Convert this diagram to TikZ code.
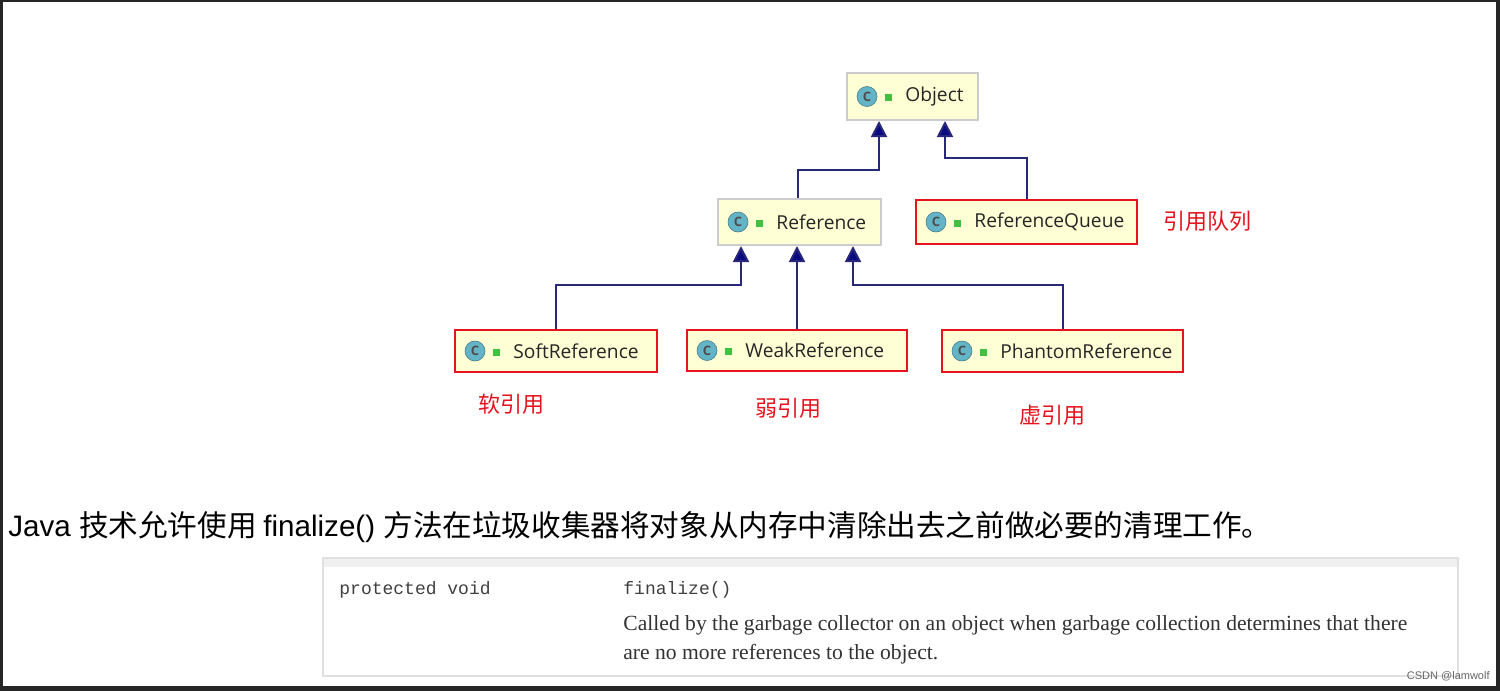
\documentclass[tikz,border=0pt]{standalone}
\usepackage{fontspec}
\setmainfont{Liberation Serif}
\setsansfont{Open Sans}
\setmonofont{Liberation Mono}
\newfontfamily\cjk{Noto Sans CJK SC}
\newfontfamily\arialf{Liberation Sans}
\usetikzlibrary{arrows.meta}
\definecolor{boxfill}{RGB}{255,255,214}
\definecolor{edgeblue}{RGB}{40,40,120}
\definecolor{tipblue}{RGB}{10,10,130}
\definecolor{redbox}{RGB}{230,20,30}
\definecolor{iconc}{RGB}{100,180,200}
\tikzset{
  cls/.style={draw=gray!40, fill=boxfill, line width=1pt, inner sep=0pt},
  redcls/.style={cls, draw=redbox, line width=1.3pt},
  inh/.style={draw=edgeblue, line width=1pt, -{Triangle[width=8pt,length=8pt,fill=tipblue]}},
  cnlabel/.style={text=redbox, font=\cjk\fontsize{11}{13}\selectfont},
  icon/.style={circle, fill=iconc, draw=iconc!70!black, line width=0.3pt, minimum size=10pt, inner sep=0pt, font=\sffamily\bfseries\fontsize{6.5}{6.5}\selectfont, text=black!70},
  lock/.style={fill=green!50!gray, minimum width=3.5pt, minimum height=3.5pt, inner sep=0pt},
  clstext/.style={anchor=west, font=\sffamily\fontsize{9.6}{12}\selectfont, text=black!85, inner sep=0pt}
}
\newcommand{\clsbox}[7]{%
  \node[#6, minimum width={(#4-#2)*0.5pt}, minimum height={(#5-#3)*0.5pt}] (#1) at ({(#2+#4)/2},{(#3+#5)/2}) {};
  \node[icon] (#1i) at ({#2+20},{(#3+#5)/2}) {C};
  \node[lock] (#1l) at ({#2+41},{(#3+#5)/2+1}) {};
  \node[clstext] (#1t) at ({#2+58},{(#3+#5)/2}) {#7};
}
\begin{document}
\begin{tikzpicture}[x=0.5pt,y=-0.5pt]
\useasboundingbox (0,0) rectangle (1500,691);
\fill[black!85] (0,0) rectangle (1500,691);
\fill[white] (3,2) rectangle (1496,686);

\clsbox{obj}{847}{73}{978}{120}{cls}{Object}
\clsbox{ref}{718}{199}{881}{245}{cls}{Reference}
\clsbox{rq}{916}{200}{1137}{244}{redcls}{ReferenceQueue}
\clsbox{soft}{455}{330}{657}{372}{redcls}{SoftReference}
\clsbox{weak}{687}{330}{907}{371}{redcls}{WeakReference}
\clsbox{ph}{942}{330}{1183}{372}{redcls}{PhantomReference}

\draw[inh] (ref.north) ++(-2,0) |- (879,170) -- (obj.south -| 879,0);
\draw[inh] (rq.north) |- (945,158) -- (obj.south -| 945,0);
\draw[inh] (soft.north) |- (741,285) -- (ref.south -| 741,0);
\draw[inh] (weak.north) -- (ref.south -| 797,0);
\draw[inh] (ph.north) |- (853,285) -- (ref.south -| 853,0);

\node[cnlabel] (l1) at (1207,221) {引用队列};
\node[cnlabel] (l2) at (511,404) {软引用};
\node[cnlabel] (l3) at (788,408) {弱引用};
\node[cnlabel] (l4) at (1052,415) {虚引用};

\node[anchor=west, inner sep=0pt, font=\fontsize{14.8}{17}\selectfont] (java) at (8,527)
  {\arialf Java \cjk 技术允许使用 \arialf finalize() \cjk 方法在垃圾收集器将对象从内存中清除出去之前做必要的清理工作。};

\fill[black!6] (323,558) rectangle (1458,567);
\draw[black!12, line width=0.8pt] (323,558) rectangle (1458,676);
\node[anchor=west, inner sep=0pt, font=\ttfamily\fontsize{9}{10}\selectfont, text=black!75] (pv) at (339,590) {protected void};
\node[anchor=west, inner sep=0pt, font=\ttfamily\fontsize{9}{10}\selectfont, text=black!75] (fin) at (623,590) {finalize()};
\node[anchor=north west, inner sep=0pt, align=left, font=\fontsize{10.8}{14.5}\selectfont, text=black!80] (desc) at (623,615)
  {Called by the garbage collector on an object when garbage collection determines that there\\are no more references to the object.};
\node[anchor=east, inner sep=0pt, font=\arialf\fontsize{5.5}{6}\selectfont, text=black!60] (csdn) at (1490,676) {CSDN @lamwolf};
\end{tikzpicture}
\end{document}
